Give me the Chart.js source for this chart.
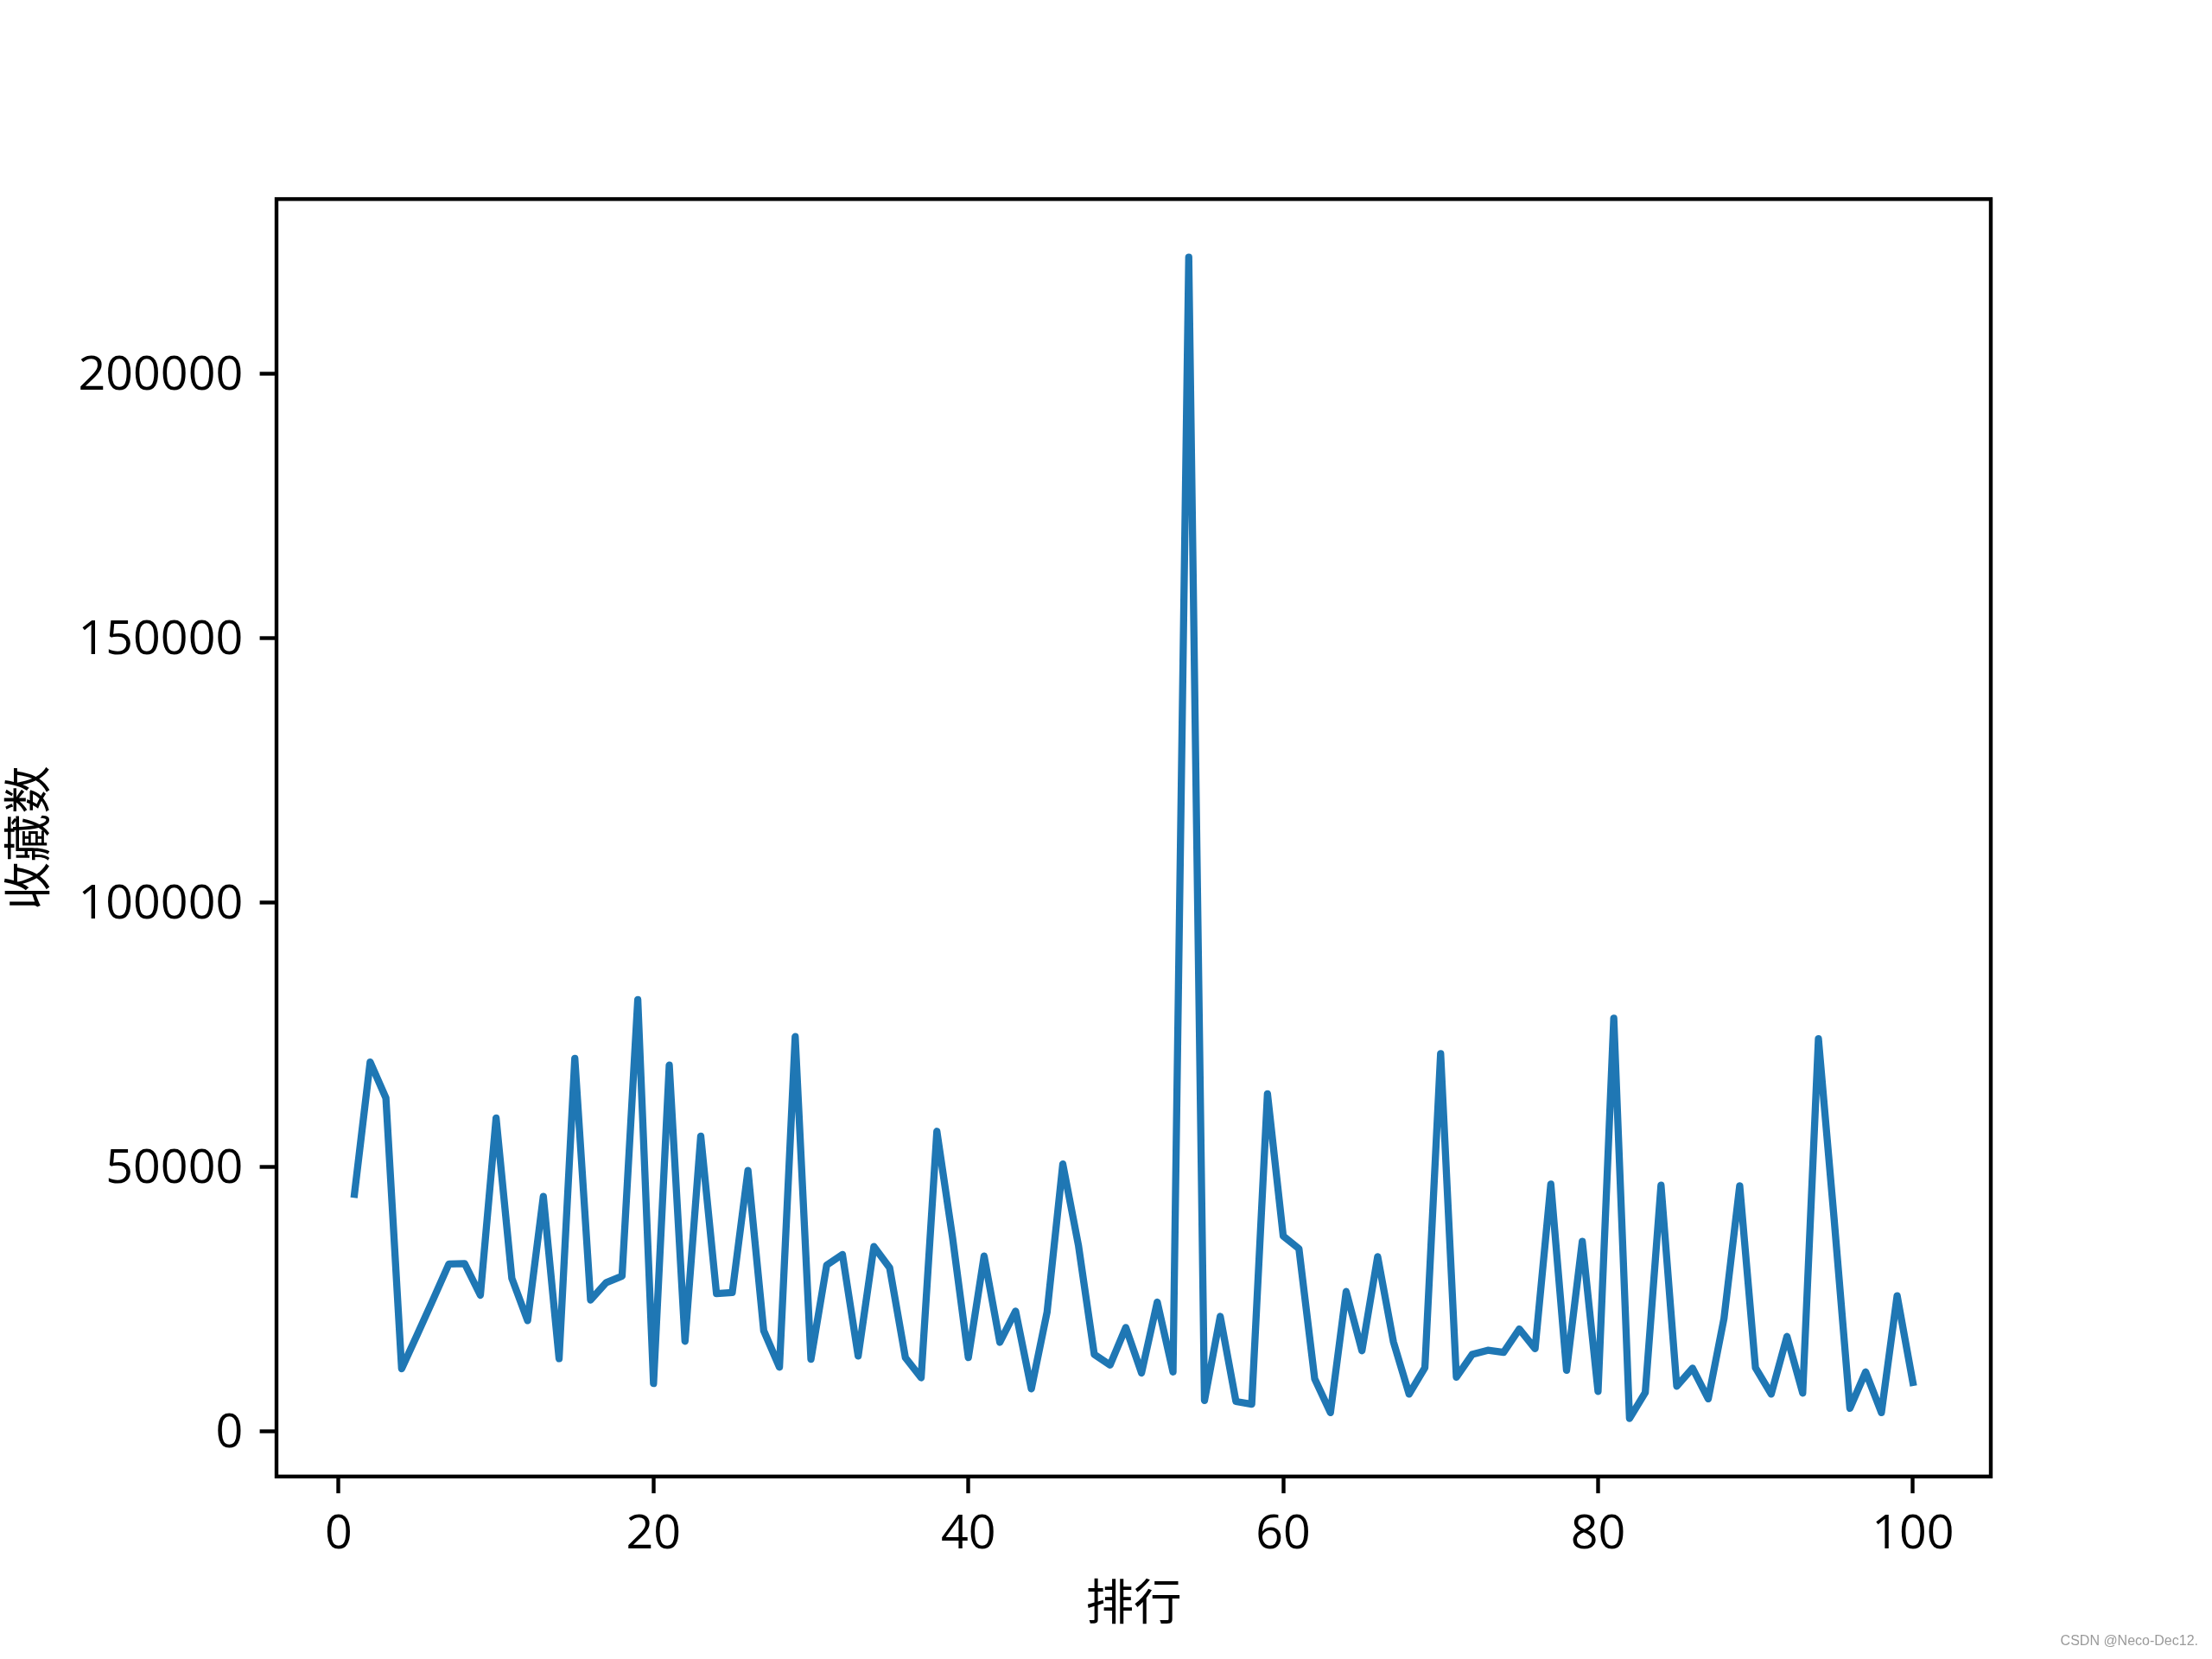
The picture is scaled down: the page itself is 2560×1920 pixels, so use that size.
<!DOCTYPE html>
<html>
<head>
<meta charset="utf-8">
<script src="https://cdn.jsdelivr.net/npm/chart.js@4/dist/chart.umd.min.js"></script>
<style>
    body { margin: 0; background: #fff; }
    #wrap { position: relative; width: 2560px; height: 1920px; }
    #mark { position: absolute; right: 16px; top: 1890px; font-family: "Liberation Sans", Arial, sans-serif; font-size: 16px; color: #9a9a9a; }
</style>
</head>
<body>
<div id="wrap">
    <canvas id="rank-chart" width="2560" height="1920"></canvas>
    <div id="mark">CSDN @Neco-Dec12.</div>
</div>
<script>
// ----- DATA -----
const ranks = [1,2,3,4,5,6,7,8,9,10,11,12,13,14,15,16,17,18,19,20,
    21,22,23,24,25,26,27,28,29,30,31,32,33,34,35,36,37,38,39,40,
    41,42,43,44,45,46,47,48,49,50,51,52,53,54,55,56,57,58,59,60,
    61,62,63,64,65,66,67,68,69,70,71,72,73,74,75,76,77,78,79,80,
    81,82,83,84,85,86,87,88,89,90,91,92,93,94,95,96,97,98,99,100];
const favorites = [44800,69800,63000,11800,18300,24900,31600,31700,25700,59200,
    28900,20900,44400,13700,70500,24800,28100,29300,81600,9000,
    69200,17000,55800,26000,26200,49300,19000,12100,74600,13600,
    31400,33400,14200,34900,30900,13900,10100,56700,36500,13900,
    33100,16800,22700,8000,22500,50500,35000,14500,12500,19600,
    11000,24400,11200,222000,5800,21700,5600,5100,63800,36900,
    34500,9900,3500,26400,15200,33000,16900,7000,12000,71400,
    10200,14500,15300,14900,19300,15600,46700,11500,35900,7500,
    78100,2400,7300,46500,8500,11900,6100,21300,46400,12000,
    7000,17900,7200,74200,40000,4300,11200,3500,25600,9200];
const xTicks = [0, 20, 40, 60, 80, 100];
const yTicks = [0, 50000, 100000, 150000, 200000];
const xLabel = "排行";
const yLabel = "收藏数";

// axis limits with 5% margins like matplotlib
const xMin = Math.min(...ranks), xMax = Math.max(...ranks);
const yMin = Math.min(...favorites), yMax = Math.max(...favorites);
const xPad = (xMax - xMin) * 0.05, yPad = (yMax - yMin) * 0.05;

const points = ranks.map((r, i) => ({x: r, y: favorites[i]}));

const fontFamily = '"Open Sans", "Noto Sans CJK SC", sans-serif';
const fontSize = 55.6;

// box around the plot area
const framePlugin = {
    id: 'frame',
    afterDatasetsDraw(chart) {
        const a = chart.chartArea;
        const ctx = chart.ctx;
        ctx.save();
        ctx.strokeStyle = "#000";
        ctx.lineWidth = 4.4;
        ctx.strokeRect(a.left, a.top, a.right - a.left, a.bottom - a.top);
        ctx.restore();
    }
};

new Chart("rank-chart", {
    type: 'line',
    data: {
        datasets: [{
            data: points,
            borderColor: "#1f77b4",
            borderWidth: 8.3,
            borderJoinStyle: 'round',
            borderCapStyle: 'square',
            pointRadius: 0,
            tension: 0,
            fill: false
        }]
    },
    options: {
        responsive: false,
        animation: false,
        devicePixelRatio: 1,
        layout: { padding: { left: 0, top: 230.4, right: 256, bottom: 0 } },
        plugins: { legend: { display: false }, tooltip: { enabled: false } },
        scales: {
            x: {
                type: 'linear',
                min: xMin - xPad,
                max: xMax + xPad,
                afterFit: function(scale) { scale.height = 211.2; },
                afterBuildTicks: function(scale) { scale.ticks = xTicks.map(v => ({value: v})); },
                grid: { drawOnChartArea: false, drawTicks: true, tickLength: 19.4, tickWidth: 4.4, tickColor: "#000" },
                border: { display: false },
                ticks: {
                    color: "#000",
                    padding: 15,
                    maxRotation: 0,
                    font: { family: fontFamily, size: fontSize },
                    callback: v => String(v)
                },
                title: {
                    display: true,
                    text: xLabel,
                    color: "#000",
                    font: { family: fontFamily, size: fontSize },
                    padding: { top: 0, bottom: 28.6 }
                }
            },
            y: {
                type: 'linear',
                min: yMin - yPad,
                max: yMax + yPad,
                afterFit: function(scale) { scale.width = 320; },
                afterBuildTicks: function(scale) { scale.ticks = yTicks.map(v => ({value: v})); },
                grid: { drawOnChartArea: false, drawTicks: true, tickLength: 19.4, tickWidth: 4.4, tickColor: "#000" },
                border: { display: false },
                ticks: {
                    color: "#000",
                    padding: 19.4,
                    labelOffset: 3,
                    font: { family: fontFamily, size: fontSize },
                    callback: v => String(v)
                },
                title: {
                    display: true,
                    text: yLabel,
                    color: "#000",
                    font: { family: fontFamily, size: fontSize },
                    padding: { top: 3, bottom: 0 }
                }
            }
        }
    },
    plugins: [framePlugin]
});
</script>
</body>
</html>
